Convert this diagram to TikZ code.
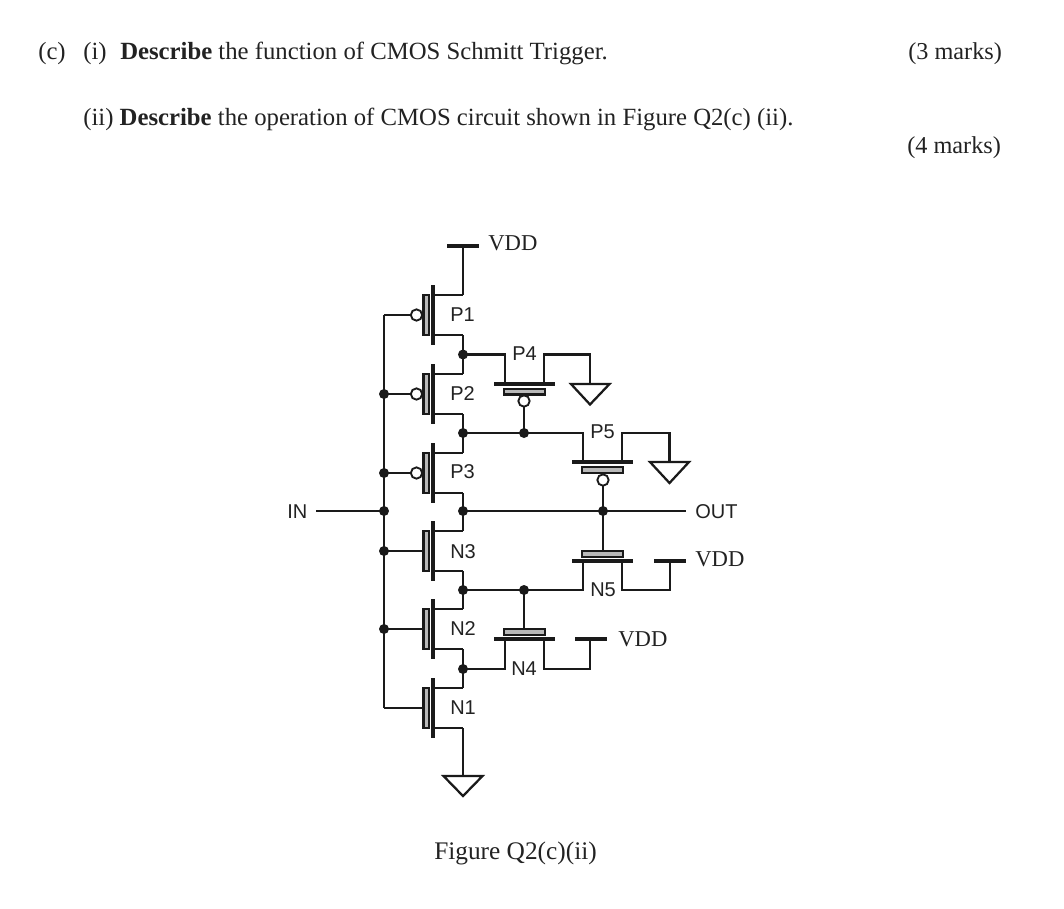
\documentclass[tikz,border=0pt]{standalone}
\usepackage{fontspec}
\setmainfont{Liberation Serif}
\newfontfamily\lblfont{Liberation Sans}
\definecolor{ink}{HTML}{1A1A1A}
\definecolor{txt}{HTML}{222222}
\tikzset{
  wire/.style={draw=ink,line width=1.6pt,line join=miter},
  plate/.style={draw=ink,line width=2.4pt},
  gatebox/.style={draw=ink,fill=gray!55,line width=1.6pt},
  bub/.style={circle,draw=ink,fill=white,line width=1.4pt,inner sep=0pt,minimum size=8.5pt},
  dot/.style={circle,fill=ink,inner sep=0pt,minimum size=7.5pt},
  gnd/.style={draw=ink,line width=1.7pt,line join=miter},
  body/.style={font=\fontsize{18.55}{20}\selectfont,text=txt,inner sep=0pt,anchor=base west},
  marks/.style={body,font=\fontsize{18.2}{20}\selectfont},
  capt/.style={body,font=\fontsize{19}{20}\selectfont},
  lbl/.style={font=\lblfont\fontsize{15}{18}\selectfont,text=txt,inner sep=0pt,anchor=base west},
  vlbl/.style={font=\fontsize{17}{20}\selectfont,text=txt,inner sep=0pt,anchor=base west},
}
\begin{document}
\begin{tikzpicture}[x=0.75pt,y=-0.75pt]
\useasboundingbox (0,0) rectangle (1064,908);
% text
\node[body] (t1) at (38,59) {(c)};
\node[body] (t2a) at (83,59) {(i)};
\node[body] (t2) at (120,59) {\textbf{Describe} the function of CMOS Schmitt Trigger.};
\node[marks] (t3) at (908,59) {(3 marks)};
\node[body] (t4) at (83,125) {(ii) \textbf{Describe} the operation of CMOS circuit shown in Figure Q2(c) (ii).};
\node[marks] (t5) at (907,153) {(4 marks)};
\node[capt] (cap) at (434,859) {Figure Q2(c)(ii)};
% named points
\foreach \n/\y in {P1/315,P2/394,P3/473,N3/551,N2/629,N1/708}{
  \coordinate (\n g) at (423,\y);
  \coordinate (\n b) at (384,\y);
  \coordinate (\n t) at (433,\y-20);
  \coordinate (\n s) at (433,\y+20);
  \coordinate (\n T) at (463,\y-20);
  \coordinate (\n S) at (463,\y+20);
  \draw[plate] (433,\y-30) -- (433,\y+30);
  \draw[gatebox] (423.5,\y-20) rectangle (429,\y+20);
  \draw[wire] (\n t) -- (\n T);
  \draw[wire] (\n s) -- (\n S);
}
\coordinate (j12) at (463,354.5);
\coordinate (j23) at (463,433);
\coordinate (j3o) at (463,511);
\coordinate (jn32) at (463,590);
\coordinate (jn21) at (463,669);
% series stack
\draw[wire] (P1S) -- (j12) -- (P2T);
\draw[wire] (P2S) -- (j23) -- (P3T);
\draw[wire] (P3S) -- (j3o) -- (N3T);
\draw[wire] (N3S) -- (jn32) -- (N2T);
\draw[wire] (N2S) -- (jn21) -- (N1T);
% VDD top
\coordinate (vt) at (463,246);
\draw[plate] (447,246) -- (479,246);
\draw[wire] (P1T) -- (vt);
\node[vlbl] (vddt) at (488,250) {VDD};
% ground bottom
\coordinate (g1) at (463,776);
\draw[wire] (N1S) -- (g1);
\draw[gnd] (443.5,776) -- (482.5,776) -- (463,796) -- cycle;
% input bus
\coordinate (busin) at (384,511);
\coordinate (inw) at (316,511);
\node[lbl] (in) at (287,518) {IN};
\draw[wire] (inw) -- (busin);
\draw[wire] (P1b) -- (N1b);
\draw[wire] (P1b) -- (P1g);
\draw[wire] (P2b) -- (P2g);
\draw[wire] (P3b) -- (P3g);
\draw[wire] (N3b) -- (N3g);
\draw[wire] (N2b) -- (N2g);
\draw[wire] (N1b) -- (N1g);
\node[bub] (P1o) at (416.5,315) {};
\node[bub] (P2o) at (416.5,394) {};
\node[bub] (P3o) at (416.5,473) {};
% P4
\coordinate (p4l) at (505,354.5); \coordinate (p4r) at (544,354.5);
\coordinate (p4lb) at (505,384); \coordinate (p4rb) at (544,384);
\coordinate (p4g) at (524,433);
\coordinate (g4) at (590,354.5); \coordinate (g4b) at (590,384);
\draw[wire] (j12) -- (p4l) -- (p4lb);
\draw[wire] (p4rb) -- (p4r) -- (g4) -- (g4b);
\draw[plate] (494,384) -- (555,384);
\draw[gatebox] (504,389) rectangle (545,394.5);
\draw[wire] (p4g) -- (524,396);
\node[bub] (p4o) at (524,401) {};
\draw[gnd] (571,384) -- (609.5,384) -- (590,404.5) -- cycle;
% P5
\coordinate (p5l) at (583,433); \coordinate (p5r) at (622,433);
\coordinate (p5lb) at (583,462); \coordinate (p5rb) at (622,462);
\coordinate (p5g) at (603,511);
\coordinate (g5) at (669.5,433); \coordinate (g5b) at (669.5,462);
\draw[wire] (j23) -- (p4g) -- (p5l) -- (p5lb);
\draw[wire] (p5rb) -- (p5r) -- (g5) -- (g5b);
\draw[plate] (572,462) -- (633,462);
\draw[gatebox] (582,467) rectangle (623,473);
\draw[wire] (p5g) -- (603,475);
\node[bub] (p5o) at (603,480) {};
\draw[gnd] (650,462) -- (689,462) -- (669.5,483) -- cycle;
% OUT
\coordinate (outw) at (686,511);
\draw[wire] (j3o) -- (outw);
\node[lbl] (out) at (695,518) {OUT};
% N5
\coordinate (n5l) at (583,590); \coordinate (n5r) at (622,590);
\coordinate (n5lb) at (583,561); \coordinate (n5rb) at (622,561);
\coordinate (n4g) at (524,590);
\coordinate (v5) at (670,590); \coordinate (v5b) at (670,561);
\draw[wire] (jn32) -- (n5l) -- (n5lb);
\draw[wire] (n5rb) -- (n5r) -- (v5) -- (v5b);
\draw[plate] (572,561) -- (633,561);
\draw[gatebox] (582,551) rectangle (623,557);
\draw[wire] (p5g) -- (603,551);
\draw[plate] (654,561) -- (686,561);
\node[vlbl] (vdd5) at (695,566) {VDD};
% N4
\coordinate (n4l) at (505,669); \coordinate (n4r) at (544,669);
\coordinate (n4lb) at (505,639); \coordinate (n4rb) at (544,639);
\coordinate (v4) at (590,669); \coordinate (v4b) at (590,639);
\draw[wire] (jn21) -- (n4l) -- (n4lb);
\draw[wire] (n4rb) -- (n4r) -- (v4) -- (v4b);
\draw[plate] (494,639) -- (555,639);
\draw[gatebox] (504,629) rectangle (545,635);
\draw[wire] (n4g) -- (524,629);
\draw[plate] (575,639) -- (607,639);
\node[vlbl] (vdd4) at (618,646) {VDD};
% dots
\foreach \p in {P2b,P3b,busin,N3b,N2b,j12,j23,j3o,jn32,jn21,p4g,p5g,n4g}{\node[dot] at (\p) {};}
% device labels
\foreach \t/\x/\y in {P1/450/321,P2/450/400,P3/450/478,N3/450/558,N2/450/635,N1/450/714,P4/512/360,P5/590/438,N5/590/596,N4/511/675}{
  \node[lbl] (\t l) at (\x,\y) {\t};
}
\end{tikzpicture}
\end{document}
